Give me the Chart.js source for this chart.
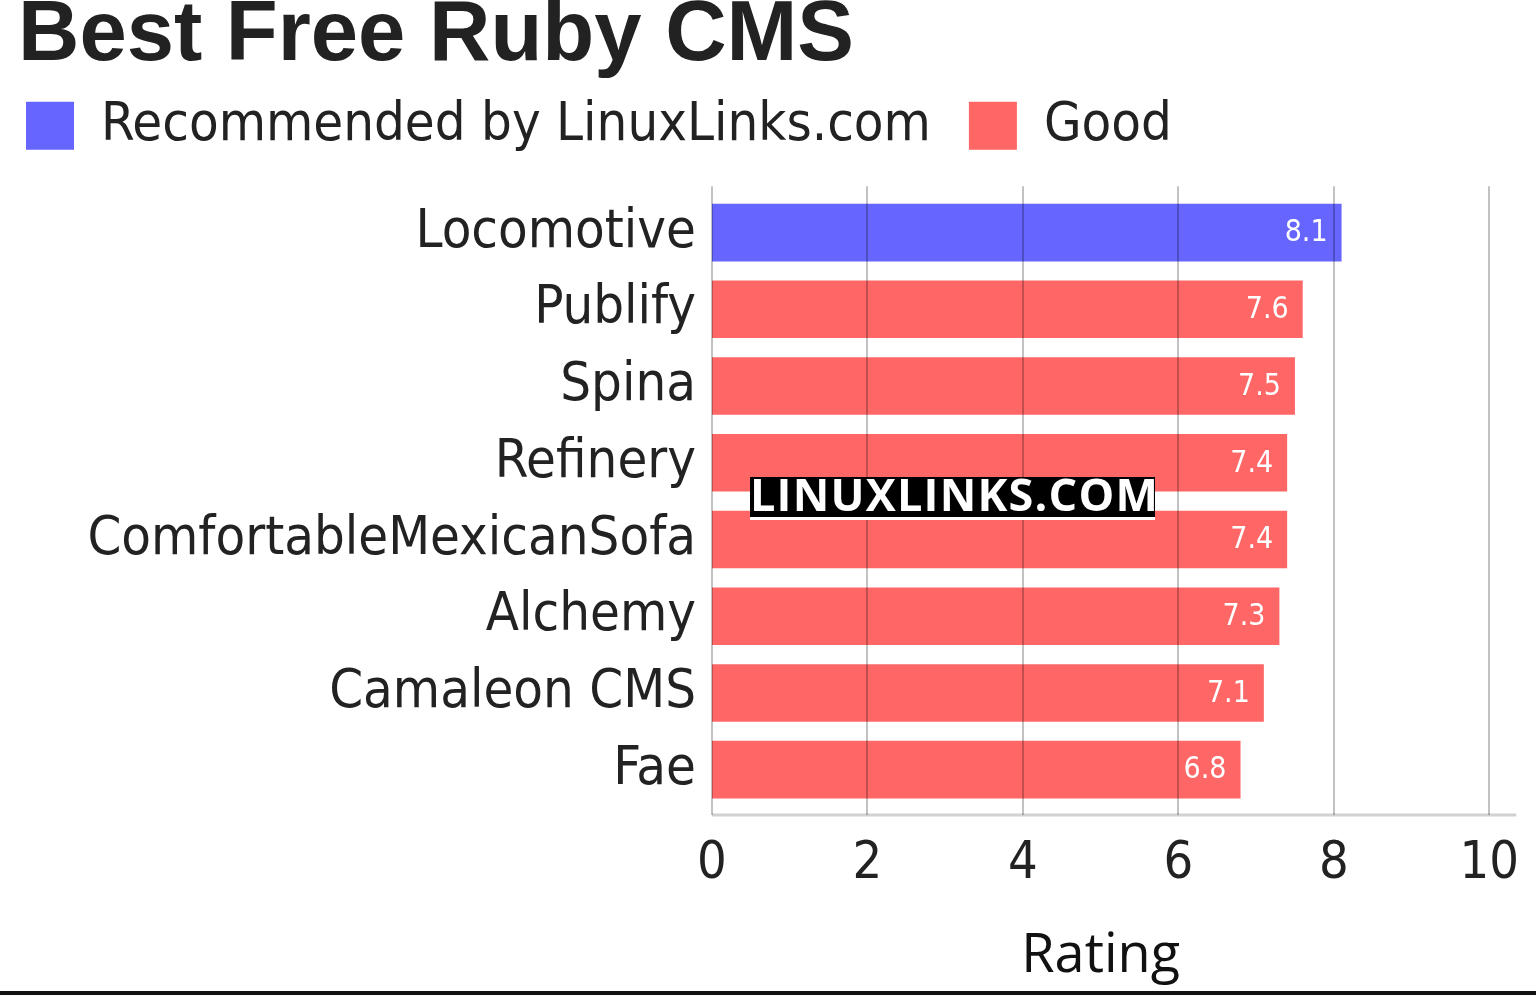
<!DOCTYPE html>
<html>
<head>
<meta charset="utf-8">
<script src="https://cdn.jsdelivr.net/npm/chart.js@4"></script>
<style>
  html, body { margin: 0; padding: 0; background: #fff; }
  #wrap { position: relative; width: 1536px; height: 995px; overflow: hidden; }
  #c { position: absolute; left: 0; top: 0; }
  #wm { position: absolute; left: 750px; top: 477px; width: 405px; height: 40px; background: #000; color: #fff;
        font-family: "Open Sans", "Noto Sans", sans-serif; font-weight: 700; font-size: 45px;
        line-height: 33px; text-align: center; letter-spacing: 1.2px; white-space: nowrap;
        border-bottom: 3px solid #fff; }
  #bottomline { position: absolute; left: 0; top: 991px; width: 1536px; height: 4px; background: #111; }
</style>
</head>
<body>
<div id="wrap">
  <canvas id="c" width="1536" height="995"></canvas>
  <div id="wm">LINUXLINKS.COM</div>
  <div id="bottomline"></div>
</div>
<script>
const chartTitle = 'Best Free Ruby CMS';
const categories = ['Locomotive', 'Publify', 'Spina', 'Refinery', 'ComfortableMexicanSofa', 'Alchemy', 'Camaleon CMS', 'Fae'];
const ratings = [8.1, 7.6, 7.5, 7.4, 7.4, 7.3, 7.1, 6.8];
const groups = ['Recommended', 'Good', 'Good', 'Good', 'Good', 'Good', 'Good', 'Good'];
const seriesNames = ['Recommended by LinuxLinks.com', 'Good'];
const seriesKeys = ['Recommended', 'Good'];
const seriesColors = ['#6666ff', '#ff6666'];
const xTicks = [0, 2, 4, 6, 8, 10];
const xAxisTitle = 'Rating';

const narrow = '"Liberation Sans Narrow", "DejaVu Sans Condensed", "Liberation Sans", sans-serif';
const PAD_LEFT = 18;
const LEGEND_PAD = 38;

const datasets = seriesKeys.map((k, i) => ({
  label: seriesNames[i],
  data: ratings.map((v, j) => groups[j] === k ? v : null),
  backgroundColor: seriesColors[i],
  borderWidth: 0,
  barPercentage: 0.75,
  categoryPercentage: 1.0
}));

const legendShift = {
  id: 'legendShift',
  afterLayout(chart) {
    const dx = (26 - PAD_LEFT) - LEGEND_PAD;
    chart.legend.left += dx;
    chart.legend.right += dx;
  }
};

const gridPlugin = {
  id: 'gridOver',
  afterDatasetsDraw(chart) {
    const ctx = chart.ctx;
    const xs = chart.scales.x;
    const area = chart.chartArea;
    ctx.save();
    ctx.strokeStyle = 'rgba(0,0,0,0.24)';
    ctx.lineWidth = 2;
    xs.ticks.forEach(t => {
      const px = Math.round(xs.getPixelForValue(t.value));
      ctx.beginPath();
      ctx.moveTo(px, area.top - 8);
      ctx.lineTo(px, area.bottom + 7);
      ctx.stroke();
    });
    ctx.strokeStyle = 'rgba(0,0,0,0.18)';
    ctx.lineWidth = 3;
    ctx.beginPath();
    ctx.moveTo(area.left, area.bottom + 7);
    ctx.lineTo(area.right + 27, area.bottom + 7);
    ctx.stroke();
    ctx.restore();
  }
};

const valuePlugin = {
  id: 'values',
  afterDatasetsDraw(chart) {
    const ctx = chart.ctx;
    ctx.save();
    ctx.fillStyle = '#ffffff';
    ctx.font = '30px ' + narrow;
    ctx.textAlign = 'right';
    ctx.textBaseline = 'middle';
    chart.data.datasets.forEach((ds, di) => {
      const meta = chart.getDatasetMeta(di);
      meta.data.forEach((el, i) => {
        if (ds.data[i] == null) return;
        ctx.fillText(ds.data[i].toFixed(1), el.x - 14, el.y + 1);
      });
    });
    ctx.restore();
  }
};

new Chart(document.getElementById('c'), {
  type: 'bar',
  data: { labels: categories, datasets },
  plugins: [legendShift, gridPlugin, valuePlugin],
  options: {
    indexAxis: 'y',
    responsive: false,
    animation: false,
    layout: { padding: { left: PAD_LEFT, right: 33, top: 0, bottom: 0 } },
    plugins: {
      title: {
        display: true,
        text: chartTitle,
        align: 'start',
        color: '#222',
        font: { family: '"Liberation Sans", Arial, sans-serif', weight: 'bold', size: 85, lineHeight: 0.79 },
        padding: { top: 3, bottom: -9.5 }
      },
      legend: {
        display: true,
        align: 'start',
        labels: {
          color: '#222',
          font: { family: narrow, size: 54 },
          boxWidth: 48,
          boxHeight: 48,
          padding: LEGEND_PAD
        }
      },
      tooltip: { enabled: false }
    },
    scales: {
      x: {
        min: 0,
        max: 10,
        afterBuildTicks(scale) { scale.ticks = xTicks.map(v => ({ value: v })); },
        grid: { display: false },
        border: { display: false },
        ticks: { color: '#222', font: { family: narrow, size: 52 }, padding: 17, maxRotation: 0 },
        title: {
          display: true,
          text: xAxisTitle,
          color: '#111',
          font: { family: '"Open Sans", "Noto Sans", sans-serif', size: 54 },
          padding: { top: 0, bottom: 6 }
        },
        afterFit(scale) { scale.height = 995 - 808; }
      },
      gap: {
        axis: 'x',
        position: 'top',
        display: true,
        grid: { display: false },
        border: { display: false },
        ticks: { display: false },
        afterFit(scale) { scale.height = 31.6; }
      },
      y: {
        stacked: true,
        grid: { display: false },
        border: { display: false },
        ticks: { color: '#222', font: { family: narrow, size: 54 }, padding: 8 },
        afterFit(scale) { scale.width = 712 - PAD_LEFT; }
      }
    }
  }
});
</script>
</body>
</html>
